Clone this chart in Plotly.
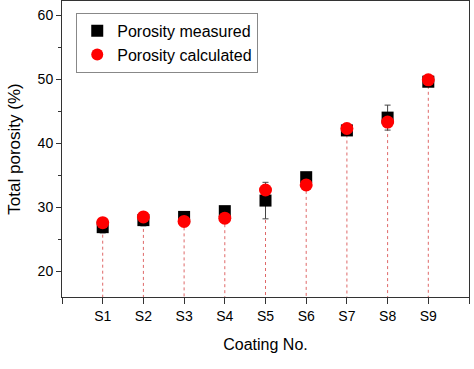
import plotly.graph_objects as go

categories = ["S1", "S2", "S3", "S4", "S5", "S6", "S7", "S8", "S9"]
positions = [1, 2, 3, 4, 5, 6, 7, 8, 9]
measured = [26.9, 28.0, 28.5, 29.4, 31.05, 34.7, 42.0, 44.0, 49.6]
measured_err = [0.9, 0.9, 0.8, 0.3, 2.85, 0.3, 0.3, 1.95, 0.3]
calculated = [27.6, 28.5, 27.8, 28.3, 32.7, 33.5, 42.3, 43.3, 49.9]
y_ticks = [20, 30, 40, 50, 60]
y_min, y_max = 16, 62.2

# drop lines from each calculated point down to the axis
drop_x, drop_y = [], []
for p, c in zip(positions, calculated):
    drop_x += [p, p, None]
    drop_y += [c, y_min, None]

fig = go.Figure()
fig.add_trace(go.Scatter(
    x=drop_x, y=drop_y, mode="lines", showlegend=False, hoverinfo="skip",
    line=dict(color="rgba(210,40,40,0.7)", width=1, dash="dot"),
))
fig.add_trace(go.Scatter(
    x=positions, y=measured, mode="markers", name="Porosity measured",
    marker=dict(symbol="square", size=12, color="black"),
    error_y=dict(type="data", array=measured_err, visible=True,
                 color="#444", thickness=1, width=3),
))
fig.add_trace(go.Scatter(
    x=positions, y=calculated, mode="markers", name="Porosity calculated",
    marker=dict(symbol="circle", size=13, color="#ff0000"),
))

axis_color = "#333"
fig.update_layout(
    width=474, height=369,
    margin=dict(l=62, r=5, t=1, b=72),
    paper_bgcolor="white", plot_bgcolor="white",
    font=dict(family="Liberation Sans, Arial, sans-serif", color="black", size=14),
    legend=dict(
        x=0.035, y=0.96, xanchor="left", yanchor="top",
        bordercolor="#888", borderwidth=1, bgcolor="white",
        font=dict(size=16), itemsizing="constant",
        tracegroupgap=0,
    ),
    xaxis=dict(
        range=[0, 10], tickmode="array",
        tickvals=[0] + positions + [10],
        ticktext=[""] + categories + [""],
        ticks="outside", ticklen=6, tickcolor=axis_color, tickwidth=1,
        showline=True, linecolor=axis_color, linewidth=1, mirror=True,
        showgrid=False, zeroline=False, automargin=False,
        tickfont=dict(size=14),
        title=dict(text="Coating No.", font=dict(size=16), standoff=16),
    ),
    yaxis=dict(
        range=[y_min, y_max], tickmode="array", tickvals=y_ticks,
        ticks="outside", ticklen=5, tickcolor=axis_color, tickwidth=1,
        minor=dict(tickvals=[25, 35, 45, 55], ticks="outside", ticklen=3,
                   tickcolor=axis_color, showgrid=False),
        showline=True, linecolor=axis_color, linewidth=1, mirror=True,
        showgrid=False, zeroline=False, automargin=False,
        tickfont=dict(size=14),
        title=dict(text="Total porosity (%)", font=dict(size=17), standoff=12),
    ),
)

fig.write_html("out.html", config={"displayModeBar": False},
               post_script="document.body.style.margin='0';")
